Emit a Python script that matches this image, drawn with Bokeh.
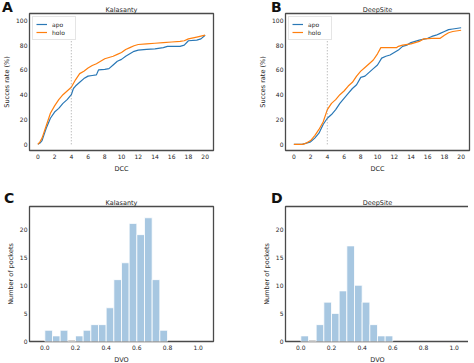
from bokeh.plotting import figure
from bokeh.models import Legend, LegendItem, FixedTicker, GridBox, Div
from bokeh.embed import file_html
from bokeh.resources import INLINE

# ---------------- data ----------------
dcc_apo_A = [0, 0.25, 0.5, 0.75, 1, 1.5, 2, 2.5, 3, 3.5, 4, 4.25, 4.5, 5, 5.5, 6, 6.5, 7, 7.25, 8, 8.5, 9, 9.5, 10, 10.5, 11, 11.5, 12, 13, 14, 15, 15.5, 17, 17.5, 18, 19, 19.5, 20]
rate_apo_A = [0, 1, 3, 8, 13, 21, 26, 29, 33, 36, 40, 45, 47, 50, 53, 55, 55.5, 56, 60, 60.5, 61, 64, 67, 68.5, 71, 73, 75, 76, 76.5, 77, 78, 79, 79, 80, 83.5, 84, 85, 88]
dcc_holo_A = [0, 0.25, 0.5, 0.75, 1, 1.5, 2, 2.5, 3, 3.5, 4, 4.5, 5, 5.5, 6, 6.5, 7, 7.5, 8, 8.5, 9, 9.5, 10, 10.5, 11, 11.5, 12, 13, 14, 15, 16, 17, 17.5, 18, 19, 20]
rate_holo_A = [0, 2, 5, 10, 15, 25, 31, 36, 40, 43, 46, 52, 57, 59, 61.5, 63.5, 65, 67, 69, 70, 71, 72.5, 74, 76.5, 78, 79.5, 80.5, 81, 81.5, 82, 82.5, 83, 83.5, 85, 86.5, 88]

dcc_apo_B = [0, 1, 1.5, 2, 2.5, 3, 3.5, 4, 4.5, 5, 5.5, 6, 6.5, 7, 7.5, 8, 8.5, 9, 9.5, 10, 10.5, 11, 11.5, 12, 12.5, 13, 13.5, 14, 15, 16, 16.5, 17, 17.5, 18, 18.5, 19, 20]
rate_apo_B = [0, 0, 1, 2, 5, 9, 16, 21, 24, 28, 33, 37, 41, 45, 48, 54, 55, 58, 61, 64, 69.5, 71, 72, 74, 76, 79, 80, 82, 84, 85.5, 87, 88, 89.5, 91, 92.5, 93, 94]
dcc_holo_B = [0, 1, 1.5, 2, 2.5, 3, 3.5, 4, 4.5, 5, 5.5, 6, 6.5, 7, 7.5, 8, 8.5, 9, 9.5, 10, 10.4, 12.3, 12.5, 13, 14, 15, 15.5, 16.5, 17.5, 18, 18.5, 19, 20]
rate_holo_B = [0, 0, 1, 3, 7, 12, 18, 28, 33, 36, 40, 43, 47, 50, 55, 59, 62, 65, 68, 73, 78, 78, 79, 80, 81, 83, 85, 85.5, 85.5, 88, 90, 91, 92]

dcc_threshold = 4
threshold_span = [0, 100]

bin_left_C = [0.0, 0.05, 0.10, 0.15, 0.20, 0.25, 0.30, 0.35, 0.40, 0.45, 0.50, 0.55, 0.60, 0.65, 0.70, 0.75]
bin_right_C = [0.05, 0.10, 0.15, 0.20, 0.25, 0.30, 0.35, 0.40, 0.45, 0.50, 0.55, 0.60, 0.65, 0.70, 0.75, 0.80]
counts_C = [2, 1, 2, 0, 1, 2, 3, 3, 6, 11, 14, 21, 19, 22, 11, 2]

bin_left_D = [0.0, 0.05, 0.10, 0.15, 0.20, 0.25, 0.30, 0.35, 0.40, 0.45, 0.50, 0.55]
bin_right_D = [0.05, 0.10, 0.15, 0.20, 0.25, 0.30, 0.35, 0.40, 0.45, 0.50, 0.55, 0.60]
counts_D = [1, 0, 3, 7, 5, 9, 17, 10, 7, 3, 1, 1]

dcc_ticks = [0, 2, 4, 6, 8, 10, 12, 14, 16, 18, 20]
rate_ticks = [0, 20, 40, 60, 80, 100]
dvo_ticks = [0.0, 0.2, 0.4, 0.6, 0.8, 1.0]
count_ticks = [0, 5, 10, 15, 20]

panel_letters = ["A", "B", "C", "D"]

# ---------------- style ----------------
FONT = "DejaVu Sans"
TXT = "#262626"
BLUE = "#2a78b6"
ORANGE = "#ff7f0e"
HIST = "#a7c7e1"
FW = 184
TOP_CURVE = 13
TOP_HIST = 29
FH_CURVE = 137
FH_HIST = 135


def style(p, xlabel, ylabel, title, xticks, yticks):
    p.title.text = title
    p.title.align = "center"
    p.title.text_font = FONT
    p.title.text_font_size = "6.5px"
    p.title.text_font_style = "normal"
    p.title.text_color = TXT
    p.title.standoff = 0
    p.title.offset = 0
    p.grid.visible = False
    p.outline_line_color = "#4a4a4a"
    p.outline_line_width = 1.3
    for ax in (p.xaxis[0], p.yaxis[0]):
        ax.axis_line_color = None
        ax.major_tick_line_color = None
        ax.minor_tick_line_color = None
        ax.major_tick_out = 0
        ax.major_tick_in = 0
        ax.major_label_text_font = FONT
        ax.major_label_text_font_size = "6px"
        ax.major_label_text_color = TXT
        ax.major_label_standoff = 3
        ax.axis_label_text_font = FONT
        ax.axis_label_text_font_size = "6.5px"
        ax.axis_label_text_font_style = "normal"
        ax.axis_label_text_color = TXT
        ax.axis_label_standoff = 3
    p.yaxis[0].major_label_standoff = 2
    p.yaxis[0].axis_label_standoff = 2
    p.xaxis[0].axis_label = xlabel
    p.yaxis[0].axis_label = ylabel
    p.xaxis[0].ticker = FixedTicker(ticks=xticks)
    p.yaxis[0].ticker = FixedTicker(ticks=yticks)
    if xticks is dvo_ticks:
        p.xaxis[0].major_label_overrides = {t: f"{t:.1f}" for t in xticks}


def curve_panel(title, xa, ya, xh, yh, mr):
    p = figure(frame_width=FW, frame_height=FH_CURVE, x_range=(-1, 21), y_range=(-5, 105.5),
               output_backend="svg", toolbar_location=None,
               min_border_left=0, min_border_right=mr, min_border_top=TOP_CURVE, min_border_bottom=27)
    style(p, "DCC", "Succes rate (%)", title, dcc_ticks, rate_ticks)
    la = p.line(xa, ya, line_color=BLUE, line_width=1.2)
    lh = p.line(xh, yh, line_color=ORANGE, line_width=1.2)
    p.segment(x0=[dcc_threshold], y0=[threshold_span[0]], x1=[dcc_threshold], y1=[threshold_span[1]],
              line_color="#999999", line_width=0.9, line_dash="1 2")
    leg = Legend(items=[LegendItem(label="apo", renderers=[la]), LegendItem(label="holo", renderers=[lh])],
                 location="top_left", label_text_font=FONT, label_text_font_size="6px",
                 label_text_color=TXT, glyph_width=11, glyph_height=8, label_height=8,
                 label_standoff=5, spacing=0, padding=3, margin=3,
                 border_line_color="#cccccc", border_line_width=0.8,
                 background_fill_alpha=1)
    p.add_layout(leg)
    return p


def hist_panel(title, left, right, counts, mr):
    p = figure(frame_width=FW, frame_height=FH_HIST, x_range=(-0.1, 1.1), y_range=(0, 24),
               output_backend="svg", toolbar_location=None,
               min_border_left=0, min_border_right=mr, min_border_top=TOP_HIST, min_border_bottom=20)
    style(p, "DVO", "Number of pockets", title, dvo_ticks, count_ticks)
    p.quad(left=left, right=right, top=counts, bottom=0, fill_color=HIST,
           line_color="white", line_width=0.8)
    return p


def letter_div(txt, top, left):
    return Div(text=txt, width=16, height=16, margin=(top, 0, 0, left),
               styles={"font-family": FONT, "font-size": "14px", "font-weight": "bold",
                       "color": "#111111", "line-height": "1"})


pA = curve_panel("Kalasanty", dcc_apo_A, rate_apo_A, dcc_holo_A, rate_holo_A, 43)
pB = curve_panel("DeepSite", dcc_apo_B, rate_apo_B, dcc_holo_B, rate_holo_B, 2)
pC = hist_panel("Kalasanty", bin_left_C, bin_right_C, counts_C, 43)
pD = hist_panel("DeepSite", bin_left_D, bin_right_D, counts_D, 2)

dA = letter_div(panel_letters[0], 0, 2)
dB = letter_div(panel_letters[1], 0, 15)
dC = letter_div(panel_letters[2], 14, 4)
dD = letter_div(panel_letters[3], 14, 15)

grid = GridBox(children=[(pA, 0, 0), (dA, 0, 0), (pB, 0, 1), (dB, 0, 1),
                         (pC, 1, 0), (dC, 1, 0), (pD, 1, 1), (dD, 1, 1)],
               spacing=0)
open("out.html", "w").write(file_html(grid, INLINE))
